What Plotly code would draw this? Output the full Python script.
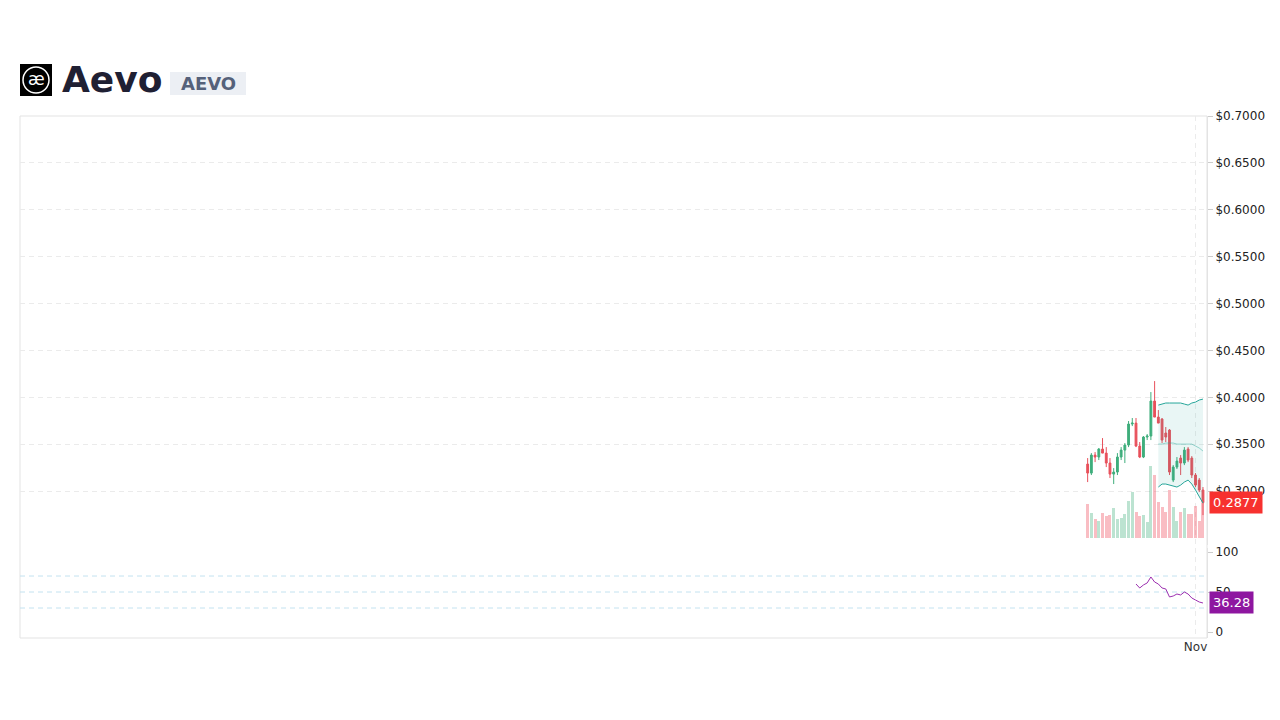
import pandas as pd
import plotly.graph_objects as go

# ---------------- data ----------------
dates = pd.date_range("2024-10-03", periods=32, freq="D")

open_ = [0.3288, 0.3192, 0.3384, 0.3363, 0.3448, 0.3405, 0.3299, 0.3181, 0.3203, 0.3363,
         0.3437, 0.3491, 0.3715, 0.3725, 0.3480, 0.3363, 0.3576, 0.3587, 0.3960, 0.3789,
         0.3768, 0.3619, 0.3651, 0.3117, 0.3256, 0.3352, 0.3299, 0.3448, 0.3352, 0.3171,
         0.3117, 0.3011]
high = [0.3352, 0.3405, 0.3416, 0.3459, 0.3565, 0.3469, 0.3352, 0.3245, 0.3405, 0.3469,
        0.3512, 0.3747, 0.3779, 0.3779, 0.3523, 0.3587, 0.3608, 0.4056, 0.4173, 0.3864,
        0.3779, 0.3683, 0.3661, 0.3277, 0.3363, 0.3384, 0.3469, 0.3469, 0.3373, 0.3192,
        0.3139, 0.3043]
low = [0.3096, 0.3171, 0.3309, 0.3331, 0.3405, 0.3256, 0.3139, 0.3075, 0.3171, 0.3331,
       0.3299, 0.3469, 0.3693, 0.3469, 0.3352, 0.3352, 0.3544, 0.3544, 0.3789, 0.3725,
       0.3512, 0.3523, 0.3171, 0.3096, 0.3235, 0.3171, 0.3277, 0.3309, 0.3139, 0.3043,
       0.2989, 0.2744]
close = [0.3192, 0.3384, 0.3363, 0.3448, 0.3405, 0.3299, 0.3181, 0.3203, 0.3363, 0.3437,
         0.3491, 0.3715, 0.3725, 0.3480, 0.3363, 0.3576, 0.3587, 0.3960, 0.3789, 0.3725,
         0.3544, 0.3576, 0.3203, 0.3256, 0.3320, 0.3299, 0.3437, 0.3331, 0.3171, 0.3064,
         0.3011, 0.2877]
volume = [15.3, 11.3, 8.6, 7.7, 11.3, 9.9, 10.4, 13.5, 8.6, 9.0,
          10.8, 16.7, 20.7, 11.7, 9.9, 10.4, 7.2, 32.4, 28.4, 16.2,
          14.0, 11.7, 21.6, 14.0, 7.7, 11.7, 13.5, 10.8, 10.8, 14.4,
          7.7, 15.8]

N = None
bb_upper = [N] * 19 + [0.3917, 0.3928, 0.3939, 0.3939, 0.3939, 0.3939, 0.3939, 0.3928,
                       0.3917, 0.3939, 0.3949, 0.3971, 0.3981]
bb_mid = [N] * 19 + [0.3501, 0.3501, 0.3512, 0.3512, 0.3512, 0.3501, 0.3501, 0.3501,
                     0.3501, 0.3501, 0.3480, 0.3459, 0.3427]
bb_lower = [N] * 19 + [0.3043, 0.3075, 0.3075, 0.3064, 0.3053, 0.3043, 0.3064, 0.3096,
                       0.3117, 0.3075, 0.3011, 0.2947, 0.2872]

rsi = [N] * 13 + [60.0, 55.0, 58.8, 61.3, 68.8, 62.5, 60.0, 55.0, 53.8, 43.8,
                  45.0, 47.5, 46.3, 50.0, 47.5, 42.5, 40.0, 37.5, 36.28]
rsi_levels = [30, 50, 70]

price_ticks = [0.30, 0.35, 0.40, 0.45, 0.50, 0.55, 0.60, 0.65, 0.70]
rsi_ticks = [0, 50, 100]
month_tick = pd.Timestamp("2024-11-01")
month_label = "Nov"

title = "Aevo"
symbol = "AEVO"
last_price_text = "0.2877"
last_rsi_text = "36.28"

# ---------------- styles ----------------
UP = "#3fae7c"
DOWN = "#e8505b"
UP_VOL = "rgba(63,174,124,0.35)"
DOWN_VOL = "rgba(240,90,105,0.40)"
TEAL = "#26a69a"
FONT = "DejaVu Sans"
GRID = "#ebebeb"

vol_colors = [UP_VOL if c >= o else DOWN_VOL for o, c in zip(open_, close)]

fig = go.Figure()

# volume on base axis y (hidden)
fig.add_trace(go.Bar(x=dates, y=volume, marker_color=vol_colors, marker_line_width=0,
                     width=0.8 * 86400000, xaxis="x", yaxis="y", hoverinfo="skip",
                     showlegend=False))

# Bollinger bands (price axis y3)
fig.add_trace(go.Scatter(x=dates, y=bb_upper, mode="lines", line=dict(color=TEAL, width=1),
                         xaxis="x", yaxis="y3", showlegend=False, hoverinfo="skip"))
fig.add_trace(go.Scatter(x=dates, y=bb_lower, mode="lines", line=dict(color=TEAL, width=1),
                         fill="tonexty", fillcolor="rgba(38,166,154,0.10)",
                         xaxis="x", yaxis="y3", showlegend=False, hoverinfo="skip"))
fig.add_trace(go.Scatter(x=dates, y=bb_mid, mode="lines",
                         line=dict(color="rgba(38,166,154,0.45)", width=1),
                         xaxis="x", yaxis="y3", showlegend=False, hoverinfo="skip"))

# candles
fig.add_trace(go.Candlestick(x=dates, open=open_, high=high, low=low, close=close,
                             increasing=dict(line=dict(color=UP, width=1), fillcolor=UP),
                             decreasing=dict(line=dict(color=DOWN, width=1), fillcolor=DOWN),
                             xaxis="x", yaxis="y3", showlegend=False))

# RSI
fig.add_trace(go.Scatter(x=dates, y=rsi, mode="lines", line=dict(color="#9c2fb0", width=1),
                         xaxis="x2", yaxis="y2", showlegend=False, hoverinfo="skip"))

x_start = dates[0] - pd.Timedelta(days=287)
x_end = dates[-1] + pd.Timedelta(hours=26)

vmax = max(volume)
k = vmax / 72.0
price_dom = [0.178, 1.0]
rsi_dom = [0.0, 0.172]

axis_common = dict(showline=False, zeroline=False)

fig.update_layout(
    width=1272, height=712,
    margin=dict(l=12, r=73, t=108, b=82),
    paper_bgcolor="white", plot_bgcolor="white",
    font=dict(family=FONT, size=12, color="#333333"),
    showlegend=False,
    bargap=0,
    xaxis=dict(domain=[0, 1], range=[x_start, x_end], anchor="y3",
               showticklabels=False, ticks="", tickvals=[month_tick],
               showgrid=True, gridcolor=GRID, griddash="5px,4px",
               rangeslider=dict(visible=False), **axis_common),
    xaxis2=dict(domain=[0, 1], range=[x_start, x_end], anchor="y2", matches="x",
                tickvals=[month_tick], ticktext=[month_label], ticks="",
                showgrid=True, gridcolor=GRID, griddash="5px,4px",
                tickfont=dict(size=12, color="#333333"), **axis_common),
    yaxis=dict(domain=price_dom, range=[-7 * k, 422 * k], visible=False,
               showgrid=False, fixedrange=True),
    yaxis3=dict(domain=price_dom, overlaying="y", side="right", anchor="x",
                range=[0.2424, 0.70], tickvals=price_ticks, tickformat="$.4f",
                ticks="outside", ticklen=5, tickcolor="#cccccc",
                showline=True, linecolor="#e3e3e3",
                showgrid=True, gridcolor=GRID, griddash="5px,4px",
                tickfont=dict(size=12, color="#222222"), zeroline=False),
    yaxis2=dict(domain=rsi_dom, side="right", anchor="x2",
                range=[-7.5, 104.75], tickvals=rsi_ticks,
                ticks="outside", ticklen=5, tickcolor="#cccccc",
                showline=True, linecolor="#e3e3e3", showgrid=False,
                tickfont=dict(size=12, color="#222222"), zeroline=False),
)

shapes = []
# plot border
shapes.append(dict(type="rect", xref="paper", yref="paper", x0=0, x1=1, y0=0, y1=1,
                   line=dict(color="#e3e3e3", width=1), layer="below"))
# RSI levels
for lv in rsi_levels:
    shapes.append(dict(type="line", xref="x2 domain", yref="y2", x0=0, x1=1, y0=lv, y1=lv,
                       line=dict(color="#c3e2f0", width=1, dash="5px,4px"), layer="below"))
# logo
shapes.append(dict(type="rect", xref="paper", yref="paper", x0=0, x1=0.02696,
                   y0=1.0383, y1=1.0996, fillcolor="black", line=dict(width=0)))
shapes.append(dict(type="circle", xref="paper", yref="paper", x0=0.00253, x1=0.02443,
                   y0=1.0441, y1=1.0939, line=dict(color="white", width=1.5)))
# badge bg
shapes.append(dict(type="rect", xref="paper", yref="paper", x0=0.1264, x1=0.1904,
                   y0=1.0402, y1=1.0843, fillcolor="#eceff4", line=dict(width=0)))
fig.update_layout(shapes=shapes)

annotations = [
    dict(text="æ", xref="paper", yref="paper", x=0.01348, y=1.0700, showarrow=False,
         font=dict(size=17, color="white", family=FONT), xanchor="center", yanchor="middle"),
    dict(text="<b>" + title + "</b>", xref="paper", yref="paper", x=0.0337, y=1.0705,
         showarrow=False, font=dict(size=36, color="#1f2033", family=FONT),
         xanchor="left", yanchor="middle"),
    dict(text="<b>" + symbol + "</b>", xref="paper", yref="paper", x=0.1584, y=1.0632,
         showarrow=False, font=dict(size=18, color="#55617a", family=FONT),
         xanchor="center", yanchor="middle"),
    dict(text=last_price_text, xref="paper", yref="y3", x=1.0017, y=close[-1],
         showarrow=False, xanchor="left", yanchor="middle", bgcolor="#f7312f",
         borderpad=3, font=dict(size=13, color="white", family=FONT)),
    dict(text=last_rsi_text, xref="paper", yref="y2", x=1.0017, y=rsi[-1],
         showarrow=False, xanchor="left", yanchor="middle", bgcolor="#8e16a0",
         borderpad=3, font=dict(size=13, color="white", family=FONT)),
]
fig.update_layout(annotations=annotations)

fig.write_html("out.html")
